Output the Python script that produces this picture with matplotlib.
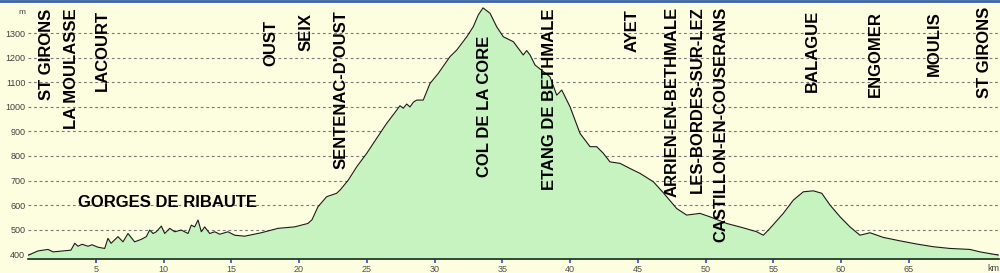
import matplotlib
matplotlib.use("Agg")
import matplotlib.pyplot as plt

# route profile (km, m)
km = [0.0, 0.74, 1.48, 1.85, 3.17, 3.45, 3.69, 3.99, 4.43, 4.72, 5.17, 5.66,
      5.90, 6.13, 6.64, 7.01, 7.38, 7.87, 8.36, 8.73, 8.98, 9.23, 9.47, 9.84,
      10.09, 10.46, 10.83, 11.31, 11.81, 12.05, 12.30, 12.55, 12.79, 13.04,
      13.41, 13.78, 14.15, 14.76, 15.25, 15.99, 17.22, 18.45, 19.68, 20.66,
      20.96, 21.40, 22.04, 22.78, 23.03, 23.64, 24.26, 25.00, 25.73, 26.47,
      27.21, 27.45, 27.70, 27.95, 28.19, 28.45, 28.69, 29.17, 29.67, 30.28,
      31.14, 31.64, 32.38, 32.86, 33.23, 33.58, 34.10, 34.59, 35.08, 35.82,
      36.55, 36.80, 37.05, 37.42, 38.03, 38.52, 39.02, 39.39, 40.00, 40.74,
      41.48, 41.97, 42.46, 42.95, 43.69, 44.43, 45.17, 46.15, 46.89, 47.87,
      48.61, 49.59, 50.33, 51.56, 52.79, 53.78, 54.27, 54.76, 55.74, 56.48,
      57.22, 57.96, 58.58, 59.19, 59.93, 60.66, 61.40, 62.14, 63.12, 64.35,
      65.59, 66.81, 68.04, 69.52, 70.26, 71.61]
elev = [395, 413, 419, 409, 416, 444, 432, 440, 432, 438, 428, 423,
        464, 444, 471, 450, 484, 450, 460, 471, 498, 484, 491, 514,
        484, 505, 491, 498, 484, 518, 511, 539, 491, 511,
        484, 491, 481, 491, 477, 473, 487, 505, 511, 525,
        540, 593, 634, 648, 661, 702, 756, 811, 872, 933,
        987, 1005, 995, 1012, 1000, 1020, 1028, 1028, 1096, 1137,
        1205, 1232, 1286, 1327, 1375, 1404, 1382, 1327, 1286, 1266,
        1212, 1230, 1212, 1171, 1144, 1123, 1048, 1069, 1001, 892,
        838, 838, 811, 776, 770, 749, 729, 695, 650, 586,
        559, 566, 552, 525, 507, 491, 477, 505, 566, 620,
        654, 658, 648, 600, 552, 511, 477, 487, 468, 454,
        441, 430, 423, 419, 409, 396]

# place names (km of the label, elevation of its top end)
places = ["ST GIRONS", "LA MOULASSE", "LACOURT", "OUST", "SEIX",
          "SENTENAC-D'OUST", "COL DE LA CORE", "ETANG DE BETHMALE", "AYET",
          "ARRIEN-EN-BETHMALE", "LES-BORDES-SUR-LEZ", "CASTILLON-EN-COUSERANS",
          "BALAGUE", "ENGOMER", "MOULIS", "ST GIRONS"]
place_km = [1.4, 3.2, 5.5, 17.9, 20.5, 23.1, 33.7, 38.5, 44.6, 47.5, 49.4,
            51.1, 57.9, 62.5, 66.9, 70.6]
place_top = [1400, 1400, 1395, 1355, 1385, 1395, 1290, 1400, 1400, 1410, 1410,
             1410, 1395, 1390, 1390, 1410]

x_ticks = [5, 10, 15, 20, 25, 30, 35, 40, 45, 50, 55, 60, 65]
y_ticks = [400, 500, 600, 700, 800, 900, 1000, 1100, 1200, 1300]

bg = "#fdfde0"
fig = plt.figure(figsize=(10, 2.73), dpi=100, facecolor=bg)
ax = fig.add_axes([0.028, 0.0513, 0.971, 0.9414])
ax.set_facecolor(bg)
ax.set_xlim(0, 71.66)
ax.set_ylim(380, 1428)

for v in y_ticks:
    ax.axhline(v, color="#7a7a7a", lw=0.8, ls=(0, (2.5, 2.5)), zorder=1)

ax.fill_between(km, elev, 380, color="#c6f3c0", lw=0, zorder=2)
ax.plot(km, elev, color="#1a1a1a", lw=0.8, zorder=3)

for s in ["top", "right", "left"]:
    ax.spines[s].set_visible(False)
ax.spines["bottom"].set_color("#1a2a1a")
ax.spines["bottom"].set_linewidth(1.2)

ax.set_xticks(x_ticks)
ax.set_xticklabels([str(t) for t in x_ticks], fontsize=6.5, color="#505050",
                   family="Liberation Sans")
ax.tick_params(axis="x", direction="out", length=3, width=1.2, color="#3050c0", pad=1)
ax.set_yticks(y_ticks)
ax.set_yticklabels([str(t) for t in y_ticks], fontsize=6.5, color="#404040",
                   family="Liberation Sans")
ax.tick_params(axis="y", length=0, pad=2)

for name, x, top in zip(places, place_km, place_top):
    ax.text(x, top, name, rotation=90, ha="center", va="top", fontsize=12,
            fontweight="bold", family="Liberation Sans", color="black", zorder=5)

ax.text(3.69, 612, "GORGES DE RIBAUTE", ha="left", va="center", fontsize=12,
        fontweight="bold", family="Liberation Sans", color="black", zorder=5)

fig.text(0.022, 0.955, "m", fontsize=6, color="#404040", ha="center", va="center",
         family="Liberation Sans")
fig.text(0.993, 0.018, "km", fontsize=6.5, color="#404040", ha="center", va="center",
         family="Liberation Sans")

# thin blue frame line at the top
fig.add_artist(plt.Line2D([0, 1], [0.997, 0.997], color="#3a64a8", lw=2,
                          transform=fig.transFigure))

fig.savefig("out.png", dpi=100, facecolor=bg)
